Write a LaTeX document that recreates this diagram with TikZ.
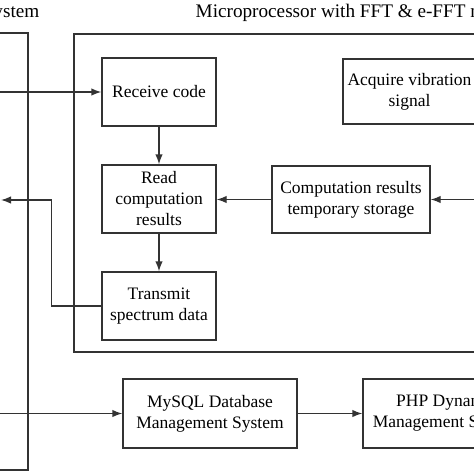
\documentclass[tikz,border=0pt]{standalone}
\usepackage{fontspec}
\setmainfont{Liberation Serif}
\usetikzlibrary{arrows.meta}

\begin{document}
\begin{tikzpicture}[x=1pt,y=-1pt,
		every node/.style = {draw, align=center, inner sep=0pt, font=\fontsize{17.5}{21}\selectfont},
		title/.style = {draw=none, font=\fontsize{19.2}{23}\selectfont},
		line width=1.4pt, draw=black!80,
		>={Latex[length=10pt,width=7.5pt]}
		]
		\useasboundingbox (0,0) rectangle (474,474);
		\clip (0,0) rectangle (474,474);
		% frames
		\draw (-20,33) rectangle (28,470);
		\draw (74,34) rectangle (520,352);
		\node[title, anchor=base east] (hosttitle) at (40,17.5) {Upper computer system};
		\node[title, anchor=base west] (mcutitle) at (195,17) {Microprocessor with FFT \& e-FFT module};
		% blocks
		\node[minimum width=114pt, minimum height=68pt] (receive) at (159,92) {Receive code};
		\node[minimum width=114pt, minimum height=68pt] (read) at (159,199) {Read\\computation\\results};
		\node[minimum width=114pt, minimum height=68pt] (transmit) at (159,306) {Transmit\\spectrum data};
		\node[minimum width=158pt, minimum height=67pt] (storage) at (351,199.5) {Computation results\\temporary storage};
		\node[minimum width=133pt, minimum height=65pt] (acquire) at (409.5,91.5) {Acquire vibration\\signal};
		\node[minimum width=174pt, minimum height=69pt] (mysql) at (210,413.5) {MySQL Database\\Management System};
		\node[minimum width=167pt, minimum height=69pt] (php) at (446.5,413.5) {PHP Dynamic\\Management System};
		% connectors
		\coordinate (codein) at (-10,92);
		\coordinate (resultin) at (490,199.5);
		\coordinate (dataout) at (1,200);
		\coordinate (dbin) at (-10,413.5);
		\draw[->] (codein) -- (receive);
		\draw[->] (receive) -- (read);
		\draw[->] (read) -- (transmit);
		\draw[->] (storage.west) -- (storage.west -| read.east);
		\draw[->] (resultin) -- (storage);
		\draw[->] (transmit.west) -- ++(-50,0) |- (dataout);
		\draw[->] (dbin) -- (mysql);
		\draw[->] (mysql) -- (php);
	\end{tikzpicture}
\end{document}
